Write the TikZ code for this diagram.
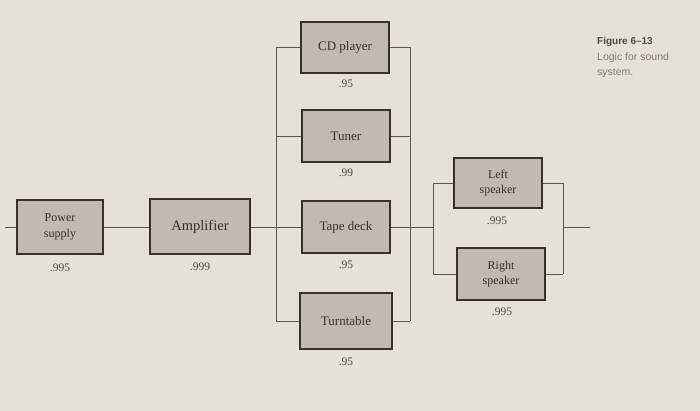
\documentclass[tikz,border=0pt]{standalone}
\usepackage{fontspec}
\setmainfont{Liberation Serif}
\newfontfamily\capfont{Liberation Sans}
\definecolor{paper}{RGB}{229,225,217}
\definecolor{boxfill}{RGB}{193,186,176}
\definecolor{ink}{RGB}{55,48,44}
\definecolor{wirecol}{RGB}{95,88,82}
\definecolor{lab}{RGB}{80,73,67}
\definecolor{capcol}{RGB}{130,121,113}
\begin{document}
\begin{tikzpicture}[x=1pt,y=-1pt,
  blk/.style={draw=ink,line width=1.4pt,fill=boxfill,inner sep=0pt,align=center,text=ink,font=\fontsize{13}{15}\selectfont},
  wire/.style={draw=wirecol,line width=0.9pt},
  rel/.style={text=lab,inner sep=0pt,font=\fontsize{11.5}{13}\selectfont},
  captxt/.style={anchor=base west,inner sep=0pt,text=capcol,font=\capfont\fontsize{10.5}{12}\selectfont}]
\fill[paper] (0,0) rectangle (700,411);
\useasboundingbox (0,0) rectangle (700,411);
% blocks
\node[blk,minimum width=86pt,minimum height=54pt,font=\fontsize{12}{15.5}\selectfont] (ps) at (60,227) {Power\\supply};
\node[blk,minimum width=100pt,minimum height=55pt,font=\fontsize{14.5}{16}\selectfont] (amp) at (200,226.5) {Amplifier};
\node[blk,minimum width=88pt,minimum height=51pt] (cd) at (345,47.5) {CD player};
\node[blk,minimum width=88pt,minimum height=52pt] (tuner) at (346,136) {Tuner};
\node[blk,minimum width=88pt,minimum height=52pt] (tape) at (346,227) {Tape deck};
\node[blk,minimum width=92pt,minimum height=56pt] (tt) at (346,321) {Turntable};
\node[blk,minimum width=88pt,minimum height=50pt,font=\fontsize{12}{15.5}\selectfont] (ls) at (498,183) {Left\\speaker};
\node[blk,minimum width=88pt,minimum height=52pt,font=\fontsize{12}{15.5}\selectfont] (rs) at (501,274) {Right\\speaker};
% reliabilities
\node[rel] (psr) at (60,268) {.995};
\node[rel] (ampr) at (200,267) {.999};
\node[rel] (cdr) at (346,84) {.95};
\node[rel] (tunerr) at (346,173) {.99};
\node[rel] (taper) at (346,265) {.95};
\node[rel] (ttr) at (346,362) {.95};
\node[rel] (lsr) at (497,221) {.995};
\node[rel] (rsr) at (502,312) {.995};
% bus coordinates
\coordinate (in) at (5,227);
\coordinate (lbot) at (276,321);
\coordinate (rbot) at (410,321);
\coordinate (rmid) at (410,227);
\coordinate (smid) at (433,227);
\coordinate (sbl) at (433,274);
\coordinate (sbr) at (563,274);
\coordinate (omid) at (563,227);
\coordinate (out) at (590,227);
% connectors
\draw[wire] (in) -- (ps.west);
\draw[wire] (ps.east) -- (amp.west |- ps.east);
\draw[wire] (amp.east |- in) -- (in -| lbot);
\draw[wire] (cd.west) -| (lbot);
\draw[wire] (tuner.west) -- (tuner.west -| lbot);
\draw[wire] (tape.west) -- (tape.west -| lbot);
\draw[wire] (tt.west) -- (lbot);
\draw[wire] (cd.east) -| (rbot);
\draw[wire] (tuner.east) -- (tuner.east -| rbot);
\draw[wire] (tape.east) -- (tape.east -| rbot);
\draw[wire] (tt.east) -- (rbot);
\draw[wire] (rmid) -- (smid);
\draw[wire] (ls.west) -| (sbl);
\draw[wire] (rs.west) -- (sbl);
\draw[wire] (ls.east) -| (sbr);
\draw[wire] (rs.east) -- (sbr);
\draw[wire] (omid) -- (out);
% caption
\node[captxt,text=lab,font=\capfont\bfseries\fontsize{10}{12}\selectfont] (fig) at (597,45) {Figure 6–13};
\node[captxt] (cap1) at (597,61) {Logic for sound};
\node[captxt] (cap2) at (597,76) {system.};
\end{tikzpicture}
\end{document}
